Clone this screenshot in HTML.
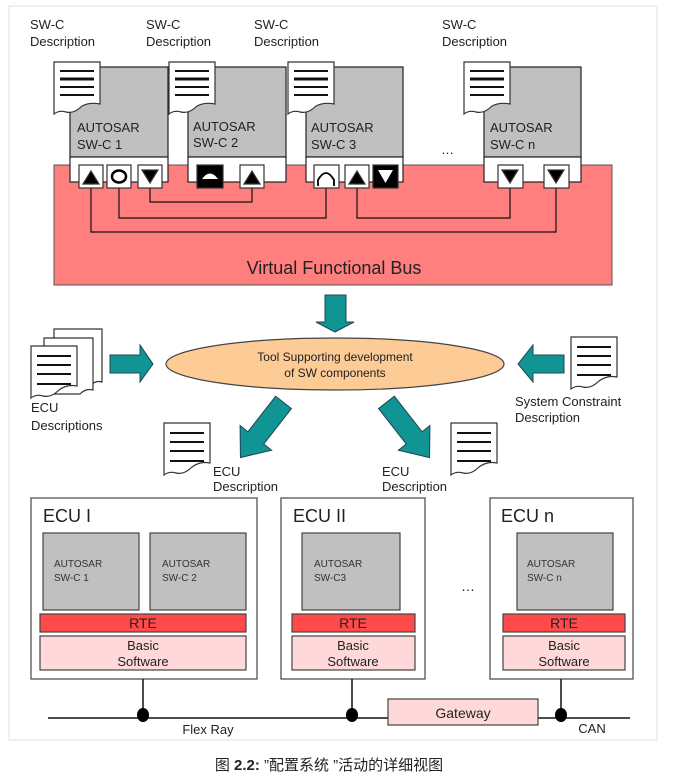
<!DOCTYPE html>
<html><head><meta charset="utf-8"><style>
html,body{margin:0;padding:0;background:#fff;}
svg{display:block;font-family:"Liberation Sans","Noto Sans CJK SC",sans-serif;}
</style></head><body>
<svg width="687" height="779" viewBox="0 0 687 779" xmlns="http://www.w3.org/2000/svg">
<defs>
<g id="doc">
<path d="M0,0 H46 V42 Q36,40 28,44 Q20,52 12,50 Q5,48 0,52 Z" fill="#fff" stroke="#333" stroke-width="1.2"/>
<line x1="6" y1="9" x2="40" y2="9" stroke="#111" stroke-width="2"/>
<line x1="6" y1="17" x2="40" y2="17" stroke="#111" stroke-width="3"/>
<line x1="6" y1="25" x2="40" y2="25" stroke="#111" stroke-width="2"/>
<line x1="6" y1="33" x2="40" y2="33" stroke="#111" stroke-width="2"/>
</g>
<g id="docE">
<path d="M0,0 H46 V40 Q36,38 28,44 Q20,52 12,50 Q5,48 0,52 Z" fill="#fff" stroke="#333" stroke-width="1.2"/>
<line x1="6" y1="10" x2="40" y2="10" stroke="#111" stroke-width="2"/>
<line x1="6" y1="19" x2="40" y2="19" stroke="#111" stroke-width="2"/>
<line x1="6" y1="28" x2="40" y2="28" stroke="#111" stroke-width="2"/>
<line x1="6" y1="38" x2="40" y2="38" stroke="#111" stroke-width="2"/>
</g>
<path id="arrDown" d="M-10,-35 H10 V10 H20 L0,35 L-20,10 H-10 Z" fill="#109494" stroke="#245" stroke-width="1"/>
</defs>

<rect x="9" y="6" width="648" height="734" fill="#fff" stroke="#e2e2e2" stroke-width="1"/>

<!-- top labels -->
<g font-size="13" fill="#222">
<text x="30" y="29">SW-C</text><text x="30" y="46">Description</text>
<text x="146" y="29">SW-C</text><text x="146" y="46">Description</text>
<text x="254" y="29">SW-C</text><text x="254" y="46">Description</text>
<text x="442" y="29">SW-C</text><text x="442" y="46">Description</text>
</g>

<!-- pink bus -->
<rect x="54" y="165" width="558" height="120" fill="#ff7f7f" stroke="#555" stroke-width="1"/>
<text x="334" y="274" font-size="18" text-anchor="middle" fill="#222">Virtual Functional Bus</text>

<!-- SW-C boxes -->
<g stroke="#222" stroke-width="1.2">
<rect x="70" y="67" width="98" height="90" fill="#c0c0c0"/>
<rect x="70" y="157" width="98" height="25" fill="#fff"/>
<rect x="188" y="67" width="98" height="90" fill="#c0c0c0"/>
<rect x="188" y="157" width="98" height="25" fill="#fff"/>
<rect x="306" y="67" width="97" height="90" fill="#c0c0c0"/>
<rect x="306" y="157" width="97" height="25" fill="#fff"/>
<rect x="484" y="67" width="97" height="90" fill="#c0c0c0"/>
<rect x="484" y="157" width="97" height="25" fill="#fff"/>
</g>
<use href="#doc" x="54" y="62"/>
<use href="#doc" x="169" y="62"/>
<use href="#doc" x="288" y="62"/>
<use href="#doc" x="464" y="62"/>
<g font-size="13" fill="#222">
<text x="77" y="132">AUTOSAR</text><text x="77" y="149">SW-C 1</text>
<text x="193" y="131">AUTOSAR</text><text x="193" y="147">SW-C 2</text>
<text x="311" y="132">AUTOSAR</text><text x="311" y="149">SW-C 3</text>
<text x="490" y="132">AUTOSAR</text><text x="490" y="149">SW-C n</text>
</g>
<text x="441" y="154" font-size="13" fill="#222">…</text>

<!-- connector lines -->
<g fill="none" stroke="#111" stroke-width="1.2">
<polyline points="150,186 150,202 252,202 252,186"/>
<polyline points="119,186 119,218 326,218 326,186"/>
<polyline points="357,186 357,218 510,218 510,186"/>
<polyline points="91,186 91,232 556,232 556,186"/>
</g>

<!-- ports -->
<g stroke="#333" stroke-width="1.2">
<rect x="79" y="165" width="24" height="23" fill="#fff"/><path d="M83,184 L91,171 L99,184 Z" fill="#000"/>
<rect x="107" y="165" width="24" height="23" fill="#fff"/><ellipse cx="119" cy="176.5" rx="7" ry="6" fill="none" stroke="#000" stroke-width="2.5"/>
<rect x="138" y="165" width="24" height="23" fill="#fff"/><path d="M142,170 L150,183 L158,170 Z" fill="#000"/>
<rect x="197" y="165" width="26" height="23" fill="#000"/><path d="M202,179 Q210,168 218,179 Z" fill="#fff" stroke="none"/><rect x="202" y="179" width="16" height="3" fill="#000" stroke="none"/>
<rect x="240" y="165" width="24" height="23" fill="#fff"/><path d="M244,184 L252,171 L260,184 Z" fill="#000"/>
<rect x="314" y="165" width="25" height="23" fill="#fff"/><path d="M318,186 V180 Q326,166 334,180 V186" fill="none" stroke="#000" stroke-width="1.8"/>
<rect x="345" y="165" width="24" height="23" fill="#fff"/><path d="M349,184 L357,171 L365,184 Z" fill="#000"/>
<rect x="373" y="165" width="25" height="23" fill="#000"/><path d="M378,170 L385.5,183 L393,170 Z" fill="#fff" stroke="none"/>
<rect x="498" y="165" width="25" height="23" fill="#fff"/><path d="M502,170 L510,183 L518,170 Z" fill="#000"/>
<rect x="544" y="165" width="25" height="23" fill="#fff"/><path d="M548,170 L556,183 L564,170 Z" fill="#000"/>
</g>

<!-- down arrow -->
<path d="M325,295 H346 V322 H354 L335,332 L316,322 H325 Z" fill="#109494" stroke="#245" stroke-width="1"/>

<!-- ellipse -->
<ellipse cx="335" cy="364" rx="169" ry="26" fill="#fdcb95" stroke="#444" stroke-width="1.2"/>
<text x="335" y="361" font-size="12" text-anchor="middle" fill="#222">Tool Supporting development</text>
<text x="335" y="377" font-size="12" text-anchor="middle" fill="#222">of SW components</text>

<!-- left docs -->
<path d="M54,329 H102 V382 Q95,380 90,386 L54,386 Z" fill="#fff" stroke="#333" stroke-width="1.2"/>
<path d="M44,338 H93 V390 Q86,388 80,394 L44,394 Z" fill="#fff" stroke="#333" stroke-width="1.2"/>
<use href="#docE" x="31" y="346"/>
<text x="31" y="412" font-size="13" fill="#222">ECU</text>
<text x="31" y="430" font-size="13" fill="#222">Descriptions</text>
<path d="M110,355 H140 V345 L153,364 L140,382 V373 H110 Z" fill="#109494" stroke="#245" stroke-width="1"/>

<!-- right doc -->
<use href="#docE" x="571" y="337"/>
<path d="M564,355 H533 V345 L518,364 L533,382 V373 H564 Z" fill="#109494" stroke="#245" stroke-width="1"/>
<text x="515" y="406" font-size="13" fill="#222">System Constraint</text>
<text x="515" y="422" font-size="13" fill="#222">Description</text>

<!-- diagonal arrows -->
<use href="#arrDown" transform="translate(262,430) rotate(38)"/>
<use href="#arrDown" transform="translate(408,430) rotate(-38)"/>

<use href="#docE" x="164" y="423"/>
<use href="#docE" x="451" y="423"/>
<g font-size="13" fill="#222">
<text x="213" y="476">ECU</text><text x="213" y="491">Description</text>
<text x="382" y="476">ECU</text><text x="382" y="491">Description</text>
</g>

<!-- ECU boxes -->
<g stroke="#444" stroke-width="1.2">
<rect x="31" y="498" width="226" height="181" fill="#fff"/>
<rect x="281" y="498" width="144" height="181" fill="#fff"/>
<rect x="490" y="498" width="143" height="181" fill="#fff"/>
<rect x="43" y="533" width="96" height="77" fill="#c0c0c0"/>
<rect x="150" y="533" width="96" height="77" fill="#c0c0c0"/>
<rect x="302" y="533" width="98" height="77" fill="#c0c0c0"/>
<rect x="517" y="533" width="96" height="77" fill="#c0c0c0"/>
<rect x="40" y="614" width="206" height="18" fill="#ff4a4a"/>
<rect x="292" y="614" width="123" height="18" fill="#ff4a4a"/>
<rect x="503" y="614" width="122" height="18" fill="#ff4a4a"/>
<rect x="40" y="636" width="206" height="34" fill="#ffd9d9"/>
<rect x="292" y="636" width="123" height="34" fill="#ffd9d9"/>
<rect x="503" y="636" width="122" height="34" fill="#ffd9d9"/>
</g>
<g font-size="18" fill="#222">
<text x="43" y="522">ECU I</text>
<text x="293" y="522">ECU II</text>
<text x="501" y="522">ECU n</text>
</g>
<g font-size="10" fill="#333">
<text x="54" y="567">AUTOSAR</text><text x="54" y="581">SW-C 1</text>
<text x="162" y="567">AUTOSAR</text><text x="162" y="581">SW-C 2</text>
<text x="314" y="567">AUTOSAR</text><text x="314" y="581">SW-C3</text>
<text x="527" y="567">AUTOSAR</text><text x="527" y="581">SW-C n</text>
</g>
<g font-size="14" fill="#222" text-anchor="middle">
<text x="143" y="628">RTE</text><text x="353" y="628">RTE</text><text x="564" y="628">RTE</text>
<text x="143" y="650" font-size="13">Basic</text><text x="143" y="666" font-size="13">Software</text>
<text x="353" y="650" font-size="13">Basic</text><text x="353" y="666" font-size="13">Software</text>
<text x="564" y="650" font-size="13">Basic</text><text x="564" y="666" font-size="13">Software</text>
</g>
<text x="468" y="591" font-size="14" fill="#222" text-anchor="middle">…</text>

<!-- bus -->
<g stroke="#111" stroke-width="1.5">
<line x1="48" y1="718" x2="630" y2="718"/>
<line x1="143" y1="679" x2="143" y2="718"/>
<line x1="352" y1="679" x2="352" y2="718"/>
<line x1="561" y1="679" x2="561" y2="718"/>
</g>
<rect x="388" y="699" width="150" height="26" fill="#ffd9d9" stroke="#444" stroke-width="1.2"/>
<text x="463" y="718" font-size="14" text-anchor="middle" fill="#222">Gateway</text>
<g fill="#000">
<ellipse cx="143" cy="715" rx="6" ry="7"/><ellipse cx="352" cy="715" rx="6" ry="7"/><ellipse cx="561" cy="715" rx="6" ry="7"/>
</g>
<text x="208" y="734" font-size="13" text-anchor="middle" fill="#222">Flex Ray</text>
<text x="592" y="733" font-size="13" text-anchor="middle" fill="#222">CAN</text>

<!-- caption -->
<text x="329" y="770" font-size="15" text-anchor="middle" fill="#222">图 <tspan font-weight="bold">2.2:</tspan>  ”配置系统 ”活动的详细视图</text>
</svg>
</body></html>
